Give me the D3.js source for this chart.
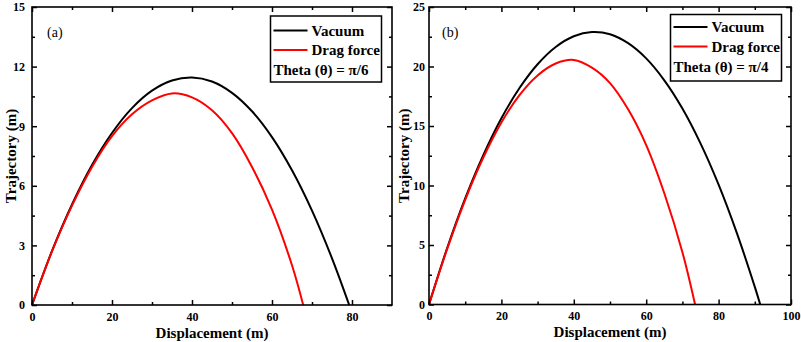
<!DOCTYPE html>
<html>
<head>
<meta charset="utf-8">
<script src="https://cdn.jsdelivr.net/npm/d3@7"></script>
<style>
  html, body { margin: 0; padding: 0; background: #fff; }
  svg { display: block; }
  text { font-family: "Liberation Serif", "Times New Roman", serif; }
</style>
</head>
<body>
<svg id="chart" width="801" height="342"></svg>
<script>
// ---------- Data ----------
// Panel (a): theta = pi/6
const vacA_x = [0, 5, 10, 15, 20, 25, 30, 35, 40, 45, 50, 55, 60, 65, 70, 75, 79.3];
const vacA_y = [0, 2.72, 5.06, 7.05, 8.66, 9.91, 10.79, 11.30, 11.45, 11.25, 10.68, 9.75, 8.45, 6.78, 4.75, 2.35, 0];
const dragA_x = [0, 5, 10, 15, 20, 25, 30, 35, 40, 45, 50, 55, 60, 65, 67.8];
const dragA_y = [0, 2.7, 5.0, 6.95, 8.5, 9.6, 10.3, 10.65, 10.45, 9.8, 8.65, 6.95, 4.8, 2.0, 0];

// Panel (b): theta = pi/4
const vacB_x = [0, 5, 10, 15, 20, 25, 30, 35, 40, 45, 50, 55, 60, 65, 70, 75, 80, 85, 90, 91.5];
const vacB_y = [0, 4.73, 8.92, 12.55, 15.65, 18.19, 20.19, 21.64, 22.54, 22.89, 22.71, 21.96, 20.68, 18.84, 16.47, 13.54, 10.07, 6.04, 1.48, 0];
const dragB_x = [0, 5, 10, 15, 20, 25, 30, 35, 40, 45, 50, 55, 60, 65, 70, 73.5];
const dragB_y = [0, 4.65, 8.8, 12.35, 15.3, 17.6, 19.25, 20.25, 20.55, 19.9, 18.6, 16.4, 13.4, 9.35, 4.4, 0];

// Tick values
const xTicksA = [0, 20, 40, 60, 80];
const xMinorA = [10, 30, 50, 70];
const yTicksA = [0, 3, 6, 9, 12, 15];
const yMinorA = [1.5, 4.5, 7.5, 10.5, 13.5];
const xTicksB = [0, 20, 40, 60, 80, 100];
const xMinorB = [10, 30, 50, 70, 90];
const yTicksB = [0, 5, 10, 15, 20, 25];
const yMinorB = [2.5, 7.5, 12.5, 17.5, 22.5];

const seriesNames = ["Vacuum", "Drag force"];
const seriesColors = ["#000000", "#ff0000"];
const xTitle = "Displacement (m)";
const yTitle = "Trajectory (m)";

// ---------- Drawing ----------
const svg = d3.select("#chart");

function panel(cfg) {
  const x = d3.scaleLinear().domain(cfg.xDomain).range([cfg.left, cfg.right]);
  const y = d3.scaleLinear().domain(cfg.yDomain).range([cfg.bottom, cfg.top]);
  const g = svg.append("g");

  // curves
  const line = d3.line().curve(d3.curveCatmullRom.alpha(0.5)).x(d => x(d[0])).y(d => y(d[1]));
  cfg.series.forEach((s, i) => {
    g.append("path")
      .datum(d3.zip(s.x, s.y))
      .attr("d", line)
      .attr("fill", "none")
      .attr("stroke", seriesColors[i])
      .attr("stroke-width", 2)
      .attr("stroke-linejoin", "round");
  });

  const fontTick = "bold 12px 'Liberation Serif'";
  function styleAxis(sel) {
    sel.select(".domain").remove();
    sel.selectAll("line").attr("stroke", "#000").attr("stroke-width", 1.5);
    sel.selectAll("text").style("font", fontTick).attr("fill", "#000");
  }

  // bottom
  g.append("g").attr("transform", `translate(0,${cfg.bottom})`)
    .call(d3.axisBottom(x).tickValues(cfg.xTicks).tickSize(-5).tickPadding(7).tickFormat(d3.format("d")))
    .call(styleAxis);
  g.append("g").attr("transform", `translate(0,${cfg.bottom})`)
    .call(d3.axisBottom(x).tickValues(cfg.xMinor).tickSize(-3).tickFormat(""))
    .call(styleAxis);
  // top
  g.append("g").attr("transform", `translate(0,${cfg.top})`)
    .call(d3.axisTop(x).tickValues(cfg.xTicks).tickSize(-5).tickFormat(""))
    .call(styleAxis);
  g.append("g").attr("transform", `translate(0,${cfg.top})`)
    .call(d3.axisTop(x).tickValues(cfg.xMinor).tickSize(-3).tickFormat(""))
    .call(styleAxis);
  // left
  g.append("g").attr("transform", `translate(${cfg.left},0)`)
    .call(d3.axisLeft(y).tickValues(cfg.yTicks).tickSize(-5).tickPadding(cfg.yPad).tickFormat(d3.format("d")))
    .call(styleAxis);
  g.append("g").attr("transform", `translate(${cfg.left},0)`)
    .call(d3.axisLeft(y).tickValues(cfg.yMinor).tickSize(-3).tickFormat(""))
    .call(styleAxis);
  // right
  g.append("g").attr("transform", `translate(${cfg.right},0)`)
    .call(d3.axisRight(y).tickValues(cfg.yTicks).tickSize(-5).tickFormat(""))
    .call(styleAxis);
  g.append("g").attr("transform", `translate(${cfg.right},0)`)
    .call(d3.axisRight(y).tickValues(cfg.yMinor).tickSize(-3).tickFormat(""))
    .call(styleAxis);

  // frame
  g.append("rect")
    .attr("x", cfg.left).attr("y", cfg.top)
    .attr("width", cfg.right - cfg.left).attr("height", cfg.bottom - cfg.top)
    .attr("fill", "none").attr("stroke", "#000").attr("stroke-width", 1.6);

  // axis titles
  g.append("text")
    .attr("x", (cfg.left + cfg.right) / 2).attr("y", cfg.xTitleY)
    .attr("text-anchor", "middle")
    .style("font", "bold 15px 'Liberation Serif'")
    .text(xTitle);
  g.append("text")
    .attr("transform", `translate(${cfg.yTitleX},${(cfg.top + cfg.bottom) / 2}) rotate(-90)`)
    .attr("text-anchor", "middle")
    .attr("dominant-baseline", "central")
    .style("font", "bold 15px 'Liberation Serif'")
    .text(yTitle);

  // panel label
  g.append("text")
    .attr("x", cfg.labelX).attr("y", cfg.labelY)
    .style("font", "14px 'Liberation Serif'")
    .text(cfg.label);

  // legend
  const L = cfg.legend;
  g.append("rect")
    .attr("x", L.x).attr("y", L.y).attr("width", L.w).attr("height", L.h)
    .attr("fill", "#fff").attr("stroke", "#000").attr("stroke-width", 1.5);
  seriesNames.forEach((name, i) => {
    const yy = L.y + L.rows[i];
    g.append("line")
      .attr("x1", L.x + 3).attr("x2", L.x + 37)
      .attr("y1", yy).attr("y2", yy)
      .attr("stroke", seriesColors[i]).attr("stroke-width", 2);
    g.append("text")
      .attr("x", L.x + 41).attr("y", yy)
      .attr("dominant-baseline", "central")
      .style("font", "bold 15px 'Liberation Serif'")
      .text(name);
  });
  g.append("text")
    .attr("x", L.x + 3).attr("y", L.y + L.rows[2])
    .attr("dominant-baseline", "central")
    .style("font", "bold 15px 'Liberation Serif'")
    .text(cfg.thetaText);
}

panel({
  xDomain: [0, 90], yDomain: [0, 15],
  left: 32, right: 392, top: 7, bottom: 305,
  xTicks: xTicksA, xMinor: xMinorA, yTicks: yTicksA, yMinor: yMinorA,
  yPad: 7,
  series: [{x: vacA_x, y: vacA_y}, {x: dragA_x, y: dragA_y}],
  xTitleY: 338, yTitleX: 11,
  label: "(a)", labelX: 47, labelY: 37,
  legend: {x: 270.5, y: 16, w: 111, h: 66, rows: [14.5, 34, 54]},
  thetaText: "Theta (θ) = π/6"
});

panel({
  xDomain: [0, 100], yDomain: [0, 25],
  left: 429, right: 791, top: 7, bottom: 304.5,
  xTicks: xTicksB, xMinor: xMinorB, yTicks: yTicksB, yMinor: yMinorB,
  yPad: 4,
  series: [{x: vacB_x, y: vacB_y}, {x: dragB_x, y: dragB_y}],
  xTitleY: 337, yTitleX: 404,
  label: "(b)", labelX: 442, labelY: 37,
  legend: {x: 670.5, y: 14.5, w: 111, h: 66.5, rows: [12.5, 32, 52]},
  thetaText: "Theta (θ) = π/4"
});
</script>
</body>
</html>
